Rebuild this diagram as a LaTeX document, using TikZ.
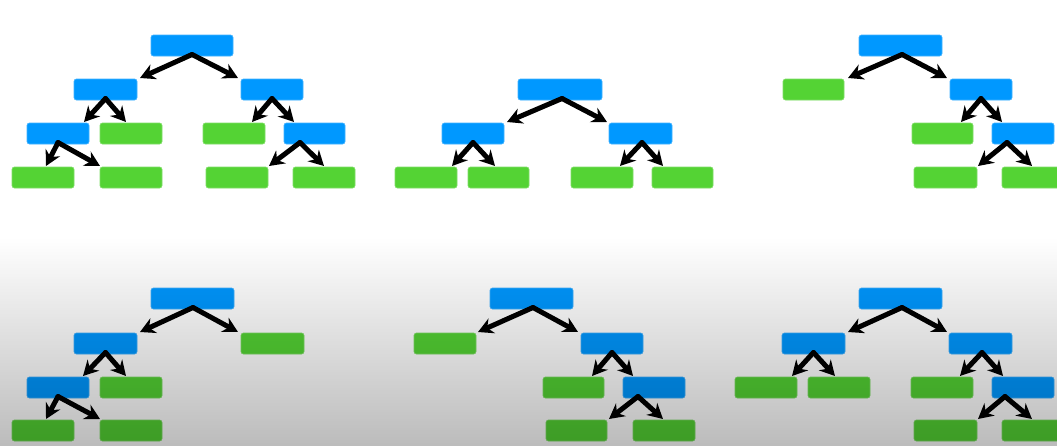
\documentclass[tikz,border=0pt]{standalone}
\usetikzlibrary{arrows.meta,fadings}
\definecolor{bblue}{RGB}{0,152,255}
\definecolor{bgreen}{RGB}{84,211,52}
\tikzset{
  bx/.style={rounded corners=2.5pt, inner sep=0pt, outer sep=0pt},
  bluebox/.style={bx, fill=bblue, draw=bblue!75!white, line width=0.7pt},
  greenbox/.style={bx, fill=bgreen, draw=bgreen!75!white, line width=0.7pt},
  arr/.style={line width=5pt, line cap=round, black, -{Stealth[length=15pt,width=16pt,inset=5pt]}},
}
\newcommand\mkbox[6]{\node[#2, minimum width={(#5-#3)*1pt}, minimum height={(#6-#4)*1pt}] (#1) at ({(#3+#5)/2},{(#4+#6)/2}) {};}
\newcommand\arr[4]{\draw[arr] ([xshift=#2pt,yshift=1.5pt]#1.south) -- ([xshift=#4pt,yshift=1pt]#3.north);}
\begin{document}
\begin{tikzpicture}[x=1pt,y=-1pt]
\useasboundingbox (0,0) rectangle (1057,445);
\fill[white] (-5,-5) rectangle (1065,450);
% ---------- Tree A (top left)
\mkbox{A0}{bluebox}{151}{35}{233}{56}
\mkbox{A1}{bluebox}{74}{79}{137}{100}
\mkbox{A2}{bluebox}{241}{79}{303}{100}
\mkbox{A3}{bluebox}{27}{123}{89}{144}
\mkbox{A4}{greenbox}{100}{123}{162}{144}
\mkbox{A5}{greenbox}{203}{123}{265}{144}
\mkbox{A6}{bluebox}{284}{123}{345}{144}
\mkbox{A7}{greenbox}{12}{167}{74}{188}
\mkbox{A8}{greenbox}{100}{167}{162}{188}
\mkbox{A9}{greenbox}{206}{167}{268}{188}
\mkbox{A10}{greenbox}{293}{167}{355}{188}
\arr{A0}{0}{A1}{34.5}
\arr{A0}{0}{A2}{-34}
\arr{A1}{0}{A3}{26}
\arr{A1}{0}{A4}{-5}
\arr{A3}{0}{A7}{3}
\arr{A3}{0}{A8}{-31}
\arr{A2}{0}{A5}{18}
\arr{A2}{0}{A6}{-20.5}
\arr{A6}{-14.5}{A9}{32}
\arr{A6}{-14.5}{A10}{0}
% ---------- Tree B (top middle)
\mkbox{B0}{bluebox}{518}{79}{602}{100}
\mkbox{B1}{bluebox}{442}{123}{504}{144}
\mkbox{B2}{bluebox}{609}{123}{672}{144}
\mkbox{B3}{greenbox}{395}{167}{457}{188}
\mkbox{B4}{greenbox}{468}{167}{529}{188}
\mkbox{B5}{greenbox}{571}{167}{633}{188}
\mkbox{B6}{greenbox}{652}{167}{713}{188}
\arr{B0}{2}{B1}{34}
\arr{B0}{2}{B2}{-33.5}
\arr{B1}{0}{B3}{26}
\arr{B1}{0}{B4}{-3.5}
\arr{B2}{1.5}{B5}{18}
\arr{B2}{1.5}{B6}{-19.5}
% ---------- Tree C (top right)
\mkbox{C0}{bluebox}{859}{35}{942}{56}
\mkbox{C1}{greenbox}{783}{79}{844}{100}
\mkbox{C2}{bluebox}{950}{79}{1012}{100}
\mkbox{C3}{greenbox}{912}{123}{973}{144}
\mkbox{C4}{bluebox}{992}{123}{1054}{144}
\mkbox{C5}{greenbox}{914}{167}{977}{188}
\mkbox{C6}{greenbox}{1002}{167}{1064}{188}
\arr{C0}{1.5}{C1}{34.5}
\arr{C0}{1.5}{C2}{-34}
\arr{C2}{0}{C3}{18.5}
\arr{C2}{0}{C4}{-21}
\arr{C4}{-16}{C5}{32.5}
\arr{C4}{-16}{C6}{-1}
% ---------- Tree D (bottom left)
\mkbox{D0}{bluebox}{151}{288}{234}{309}
\mkbox{D1}{bluebox}{74}{333}{137}{354}
\mkbox{D2}{greenbox}{241}{333}{304}{354}
\mkbox{D3}{bluebox}{27}{377}{89}{398}
\mkbox{D4}{greenbox}{100}{377}{162}{398}
\mkbox{D5}{greenbox}{12}{420}{74}{441}
\mkbox{D6}{greenbox}{100}{420}{162}{441}
\arr{D0}{0.5}{D1}{34.5}
\arr{D0}{0.5}{D2}{-34.5}
\arr{D1}{0}{D3}{25}
\arr{D1}{0}{D4}{-5}
\arr{D3}{0}{D5}{3}
\arr{D3}{0}{D6}{-31}
% ---------- Tree E (bottom middle)
\mkbox{E0}{bluebox}{490}{288}{573}{309}
\mkbox{E1}{greenbox}{414}{333}{476}{354}
\mkbox{E2}{bluebox}{581}{333}{643}{354}
\mkbox{E3}{greenbox}{543}{377}{604}{398}
\mkbox{E4}{bluebox}{623}{377}{685}{398}
\mkbox{E5}{greenbox}{546}{420}{607}{441}
\mkbox{E6}{greenbox}{633}{420}{695}{441}
\arr{E0}{1.5}{E1}{33}
\arr{E0}{1.5}{E2}{-34}
\arr{E2}{0}{E3}{18.5}
\arr{E2}{0}{E4}{-21}
\arr{E4}{-16}{E5}{32.5}
\arr{E4}{-16}{E6}{-1}
% ---------- Tree F (bottom right)
\mkbox{F0}{bluebox}{859}{288}{942}{309}
\mkbox{F1}{bluebox}{782}{333}{845}{354}
\mkbox{F2}{bluebox}{949}{333}{1012}{354}
\mkbox{F3}{greenbox}{735}{377}{797}{398}
\mkbox{F4}{greenbox}{808}{377}{870}{398}
\mkbox{F5}{greenbox}{911}{377}{973}{398}
\mkbox{F6}{bluebox}{992}{377}{1054}{398}
\mkbox{F7}{greenbox}{914}{420}{977}{441}
\mkbox{F8}{greenbox}{1002}{420}{1064}{441}
\arr{F0}{1.5}{F1}{34.5}
\arr{F0}{1.5}{F2}{-33.5}
\arr{F1}{0}{F3}{26}
\arr{F1}{0}{F4}{-4}
\arr{F2}{1.5}{F5}{18}
\arr{F2}{1.5}{F6}{-20}
\arr{F6}{-18}{F7}{32.5}
\arr{F6}{-18}{F8}{-1}
% ---------- grey gradient over the lower half
\fill[black, fill opacity=0.27, path fading=north] (-5,238) rectangle (1065,450);
\end{tikzpicture}
\end{document}
